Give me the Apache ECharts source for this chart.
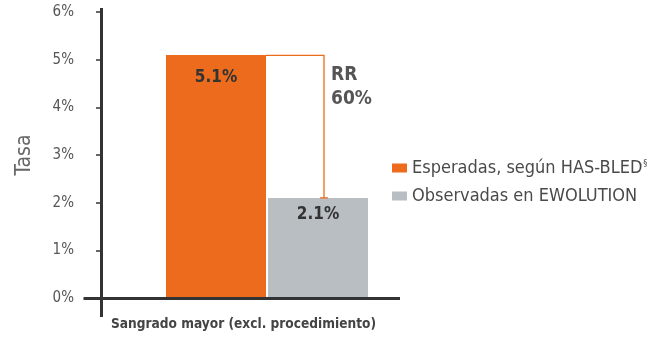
<!DOCTYPE html>
<html>
<head>
<meta charset="utf-8">
<script src="https://cdn.jsdelivr.net/npm/echarts@6/dist/echarts.min.js"></script>
<style>html,body{margin:0;padding:0;background:#fff}#c{width:666px;height:337px}</style>
</head>
<body>
<div id="c"></div>
<script>
var categories = ['Sangrado mayor (excl. procedimiento)'];
var seriesNames = ['Esperadas, según HAS-BLED', 'Observadas en EWOLUTION'];
var expected = [5.1];
var observed = [2.1];
var rrLabel = ['RR', '60%'];
var yTicks = [0, 1, 2, 3, 4, 5, 6];

var FONT = "'Liberation Sans Narrow','DejaVu Sans Condensed',sans-serif";
var ORANGE = '#ec6b1c', GRAY = '#b9bec3';

var chart = echarts.init(document.getElementById('c'), null, {renderer: 'canvas'});
var option = {
  animation: false,
  textStyle: {fontFamily: FONT},
  grid: {left: 101, right: 233, top: 12, bottom: 39},
  title: {
    text: categories[0], left: 106, top: 312,
    textStyle: {fontFamily: FONT, fontSize: 13.6, fontWeight: 'bold', color: '#444'}
  },
  legend: {
    orient: 'vertical', left: 392, top: 159, padding: 0, itemWidth: 15, itemHeight: 9, itemGap: 10,
    icon: 'rect',
    formatter: function (n) { return n === seriesNames[0] ? '{a|' + n + '}{s|§}' : '{a|' + n + '}'; },
    textStyle: {
      rich: {
        a: {fontFamily: FONT, fontSize: 18, color: '#4a4a4a'},
        s: {fontFamily: FONT, fontSize: 9, color: '#4a4a4a', verticalAlign: 'top', padding: [0, 0, 8, 1]}
      }
    },
    data: seriesNames
  },
  xAxis: {
    type: 'category', data: categories,
    axisLine: {show: false}, axisTick: {show: false}, axisLabel: {show: false}
  },
  yAxis: {
    type: 'value', min: yTicks[0], max: yTicks[yTicks.length - 1], interval: 1,
    name: 'Tasa', nameLocation: 'middle', nameGap: 66, nameRotate: 90,
    nameTextStyle: {fontFamily: FONT, fontSize: 21, color: '#666'},
    axisLine: {show: false},
    axisTick: {show: true, length: 5, lineStyle: {color: '#333', width: 1.5}},
    axisLabel: {formatter: '{value}%', fontFamily: FONT, fontSize: 15, color: '#555', margin: 27},
    splitLine: {show: false}
  },
  series: [
    {
      name: seriesNames[0], type: 'bar', data: expected, barWidth: 100, barGap: '2%',
      itemStyle: {color: ORANGE},
      label: {show: true, position: 'insideTop', distance: 14, formatter: '{c}%',
        fontFamily: FONT, fontSize: 17, fontWeight: 'bold', color: '#333'}
    },
    {
      name: seriesNames[1], type: 'bar', data: observed, barWidth: 100,
      itemStyle: {color: GRAY},
      label: {show: true, position: 'insideTop', distance: 8, formatter: '{c}%',
        fontFamily: FONT, fontSize: 17, fontWeight: 'bold', color: '#333'}
    },
    {
      type: 'custom', silent: true, z: 5,
      data: [[0, expected[0], observed[0]]],
      renderItem: function (params, api) {
        var top = api.coord([api.value(0), api.value(1)]);
        var bot = api.coord([api.value(0), api.value(2)]);
        var cx = top[0];
        var xr = cx + 57;
        return {
          type: 'group',
          children: [
            {type: 'polyline', shape: {points: [[cx - 1, top[1] + 0.5], [xr, top[1] + 0.5], [xr, bot[1]]]},
              style: {stroke: ORANGE, lineWidth: 1.3, fill: null}},
            {type: 'line', shape: {x1: xr - 4, y1: bot[1], x2: xr + 4, y2: bot[1]},
              style: {stroke: ORANGE, lineWidth: 1.3}},
            {type: 'text', x: xr + 7, y: top[1] + 8,
              style: {text: rrLabel.join('\n'), fontFamily: FONT, fontSize: 19, fontWeight: 'bold',
                fill: '#555', lineHeight: 24, align: 'left', verticalAlign: 'top'}}
          ]
        };
      }
    }
  ]
};
chart.setOption(option);

var y0 = chart.convertToPixel({yAxisIndex: 0}, yTicks[0]);
var yTop = chart.convertToPixel({yAxisIndex: 0}, yTicks[yTicks.length - 1]);
var xL = 101.5;
chart.setOption({
  graphic: [
    {type: 'line', shape: {x1: xL, y1: yTop - 4, x2: xL, y2: y0 + 19}, style: {stroke: '#333', lineWidth: 3}, z: 10},
    {type: 'line', shape: {x1: xL - 18, y1: y0 + 0.5, x2: 400, y2: y0 + 0.5}, style: {stroke: '#333', lineWidth: 3}, z: 10}
  ]
});
</script>
</body>
</html>
